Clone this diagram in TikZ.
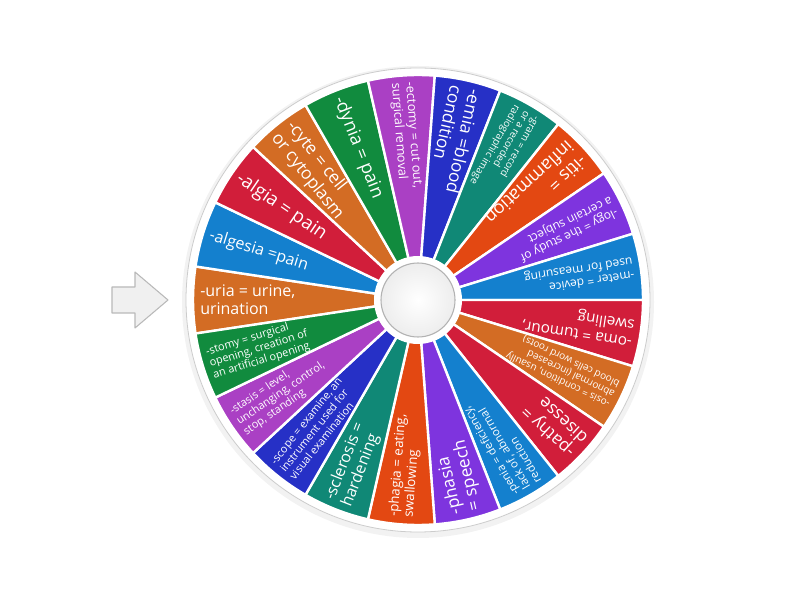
\documentclass[tikz,border=0pt]{standalone}
\usepackage{fontspec}
\setmainfont{Open Sans}
\usetikzlibrary{calc}
\definecolor{wheelorange}{RGB}{211,108,36}
\definecolor{wheelblue}{RGB}{20,128,206}
\definecolor{wheelred}{RGB}{209,30,58}
\definecolor{wheelgreen}{RGB}{17,139,62}
\definecolor{wheelmagenta}{RGB}{170,64,196}
\definecolor{wheelindigo}{RGB}{38,48,198}
\definecolor{wheelteal}{RGB}{16,136,118}
\definecolor{wheelflame}{RGB}{227,72,18}
\definecolor{wheelviolet}{RGB}{126,52,222}
\tikzset{
  wedge/.style={draw=white, line width=1.8pt},
  wordlbl/.style={text=white, anchor=west, align=left, inner sep=0pt}
}

\begin{document}
\begin{tikzpicture}[x=0.75pt,y=0.75pt]
\useasboundingbox (0,0) rectangle (800,600);
% 21 segments, 360/21 degrees each, first one centred on the pointer (180 deg)

% Pointer
\draw[gray!55, fill=gray!12, line width=0.8pt, line join=round]
  (112,287) -- (135,287) -- (135,272) -- (168,300) -- (135,328) -- (135,313) -- (112,313) -- cycle;

\begin{scope}[shift={(418,300)}]
% Rim and shadow
\fill[black!5] (0,-2) circle (236);
\draw[gray!40, fill=white, line width=0.6pt] (0,0) circle (232);

% Segments
\foreach \k/\col in {0/wheelorange, 1/wheelblue, 2/wheelred, 3/wheelorange, 4/wheelgreen,
    5/wheelmagenta, 6/wheelindigo, 7/wheelteal, 8/wheelflame, 9/wheelviolet, 10/wheelblue,
    11/wheelred, 12/wheelorange, 13/wheelred, 14/wheelblue, 15/wheelviolet, 16/wheelflame,
    17/wheelteal, 18/wheelindigo, 19/wheelmagenta, 20/wheelgreen}
{
  \pgfmathsetmacro\sa{180-\k*360/21+180/21}
  \pgfmathsetmacro\ea{\sa-360/21}
  \draw[wedge, fill=\col] (0,0) -- (\sa:225) arc[start angle=\sa, end angle=\ea, radius=225] -- cycle;
}

% Hub
\fill[white] (0,0) circle (44);
\shade[inner color=white, outer color=gray!14] (0,0) circle (37);
\draw[gray!60, line width=0.8pt] (0,0) circle (37);

% Labels (size in pt)
\foreach \k/\sz/\txt in {
    0/12/{-uria = urine,\\urination},
    1/12/{-algesia =pain},
    2/14/{-algia = pain},
    3/13/{-cyte = cell\\or cytoplasm},
    4/13.5/{-dynia = pain},
    5/9.5/{-ectomy = cut out,\\surgical removal},
    6/13/{-emia =blood\\condition},
    7/7.5/{-gram = record\\or a recorded\\radiographic image},
    8/13.5/{-itis =\\inflammation},
    9/9/{-logy = the study of\\a certain subject},
    10/9/{-meter = device\\used for measuring},
    11/11.5/{-oma = tumour,\\swelling},
    12/7.5/{-osis = condition, usaully\\abnormal (increased\\blood cells word roots)},
    13/13/{-pathy =\\disesse},
    14/8.5/{-penia = deficiency,\\lack of, abnormal\\reduction},
    15/13/{-phasia\\= speech},
    16/10/{-phagia = eating,\\swallowing},
    17/12/{-sclerosis =\\hardening},
    18/8.2/{-scope = examine, an\\instrument used for\\visual examination},
    19/8.2/{-stasis = level,\\unchanging, control,\\stop, standing},
    20/8.2/{-stomy = surgical\\opening, creation of\\an artificial opening}}
{
  \pgfmathsetmacro\ang{180-\k*360/21}
  \pgfmathsetmacro\rot{-\k*360/21}
  \pgfmathsetmacro\ls{1.12*\sz}
  \node[wordlbl, font=\fontsize{\sz}{\ls}\selectfont, rotate=\rot] (word\k) at (\ang:218) {\txt};
}
\end{scope}
\end{tikzpicture}
\end{document}
